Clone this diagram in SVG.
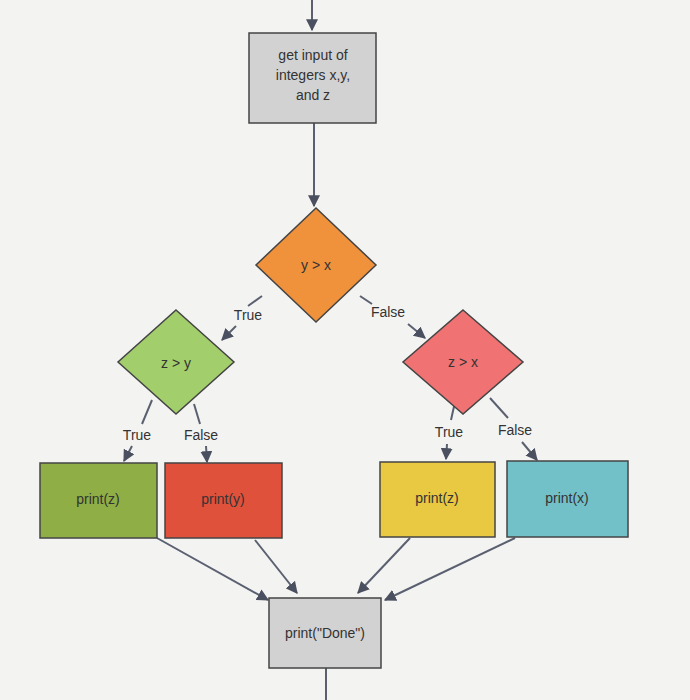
<svg xmlns="http://www.w3.org/2000/svg" width="690" height="700" viewBox="0 0 690 700">
<defs>
<marker id="ah" viewBox="0 0 10 10" refX="9" refY="5" markerWidth="6" markerHeight="6" orient="auto"><path d="M0,0 L10,5 L0,10 z" fill="#4a5060"/></marker>
<style>
.ln{stroke:#5a6070;stroke-width:2;fill:none}
.ar{stroke:#5a6070;stroke-width:2;fill:none;marker-end:url(#ah)}
.bx{stroke:#444;stroke-width:1.5}
text{font-family:"Liberation Sans",Arial,sans-serif;font-size:14px;fill:#333;text-anchor:middle}
</style>
</defs>
<rect width="690" height="700" fill="#f3f3f2"/>
<g id="connectors">
<line class="ar" x1="312" y1="0" x2="312" y2="30"/>
<line class="ar" x1="314" y1="123" x2="314" y2="206"/>
<line class="ln" x1="262" y1="296" x2="248" y2="306"/>
<line class="ar" x1="236" y1="326" x2="222" y2="340"/>
<line class="ln" x1="360" y1="296" x2="372" y2="304"/>
<line class="ar" x1="408" y1="324" x2="425" y2="338"/>
<line class="ln" x1="152" y1="400" x2="142" y2="424"/>
<line class="ar" x1="132" y1="446" x2="124" y2="461"/>
<line class="ln" x1="194" y1="404" x2="200" y2="424"/>
<line class="ar" x1="206" y1="446" x2="207" y2="462"/>
<line class="ln" x1="455" y1="402" x2="451" y2="420"/>
<line class="ar" x1="447" y1="444" x2="446" y2="459"/>
<line class="ln" x1="490" y1="398" x2="508" y2="418"/>
<line class="ar" x1="522" y1="442" x2="537" y2="460"/>
<line class="ar" x1="157" y1="538" x2="268" y2="600"/>
<line class="ar" x1="255" y1="540" x2="297" y2="593"/>
<line class="ar" x1="410" y1="538" x2="358" y2="593"/>
<line class="ar" x1="515" y1="538" x2="385" y2="600"/>
<line class="ln" x1="326" y1="668" x2="326" y2="700"/>
</g>
<g id="n-input"><rect class="bx" x="249" y="33" width="127" height="90" fill="#d2d2d2"/>
<text x="313" y="60">get input of</text><text x="313" y="80">integers x,y,</text><text x="313" y="100">and z</text></g>
<g id="n-yx"><polygon class="bx" points="316,208 376,265 316,322 256,265" fill="#f0913c" stroke="#666"/><text x="316" y="270">y &gt; x</text></g>
<text x="248" y="320">True</text>
<text x="388" y="317">False</text>
<g id="n-zy"><polygon class="bx" points="176,310 234,362 176,414 118,362" fill="#a2cf6c" stroke="#666"/><text x="176" y="368">z &gt; y</text></g>
<g id="n-zx"><polygon class="bx" points="463,310 523,362 463,414 403,362" fill="#f07272" stroke="#666"/><text x="463" y="367">z &gt; x</text></g>
<text x="137" y="440">True</text><text x="201" y="440">False</text>
<text x="449" y="437">True</text><text x="515" y="435">False</text>
<g id="n-pz1"><rect class="bx" x="40" y="463" width="117" height="75" fill="#8fae46"/><text x="98" y="504">print(z)</text></g>
<g id="n-py"><rect class="bx" x="165" y="463" width="117" height="75" fill="#e0513b"/><text x="223" y="504">print(y)</text></g>
<g id="n-pz2"><rect class="bx" x="380" y="462" width="115" height="75" fill="#e9c842"/><text x="437" y="503">print(z)</text></g>
<g id="n-px"><rect class="bx" x="507" y="461" width="121" height="76" fill="#72c1c9"/><text x="567" y="503">print(x)</text></g>
<g id="n-done"><rect class="bx" x="269" y="598" width="112" height="70" fill="#d2d2d2"/><text x="325" y="638" font-size="13">print("Done")</text></g>
</svg>
